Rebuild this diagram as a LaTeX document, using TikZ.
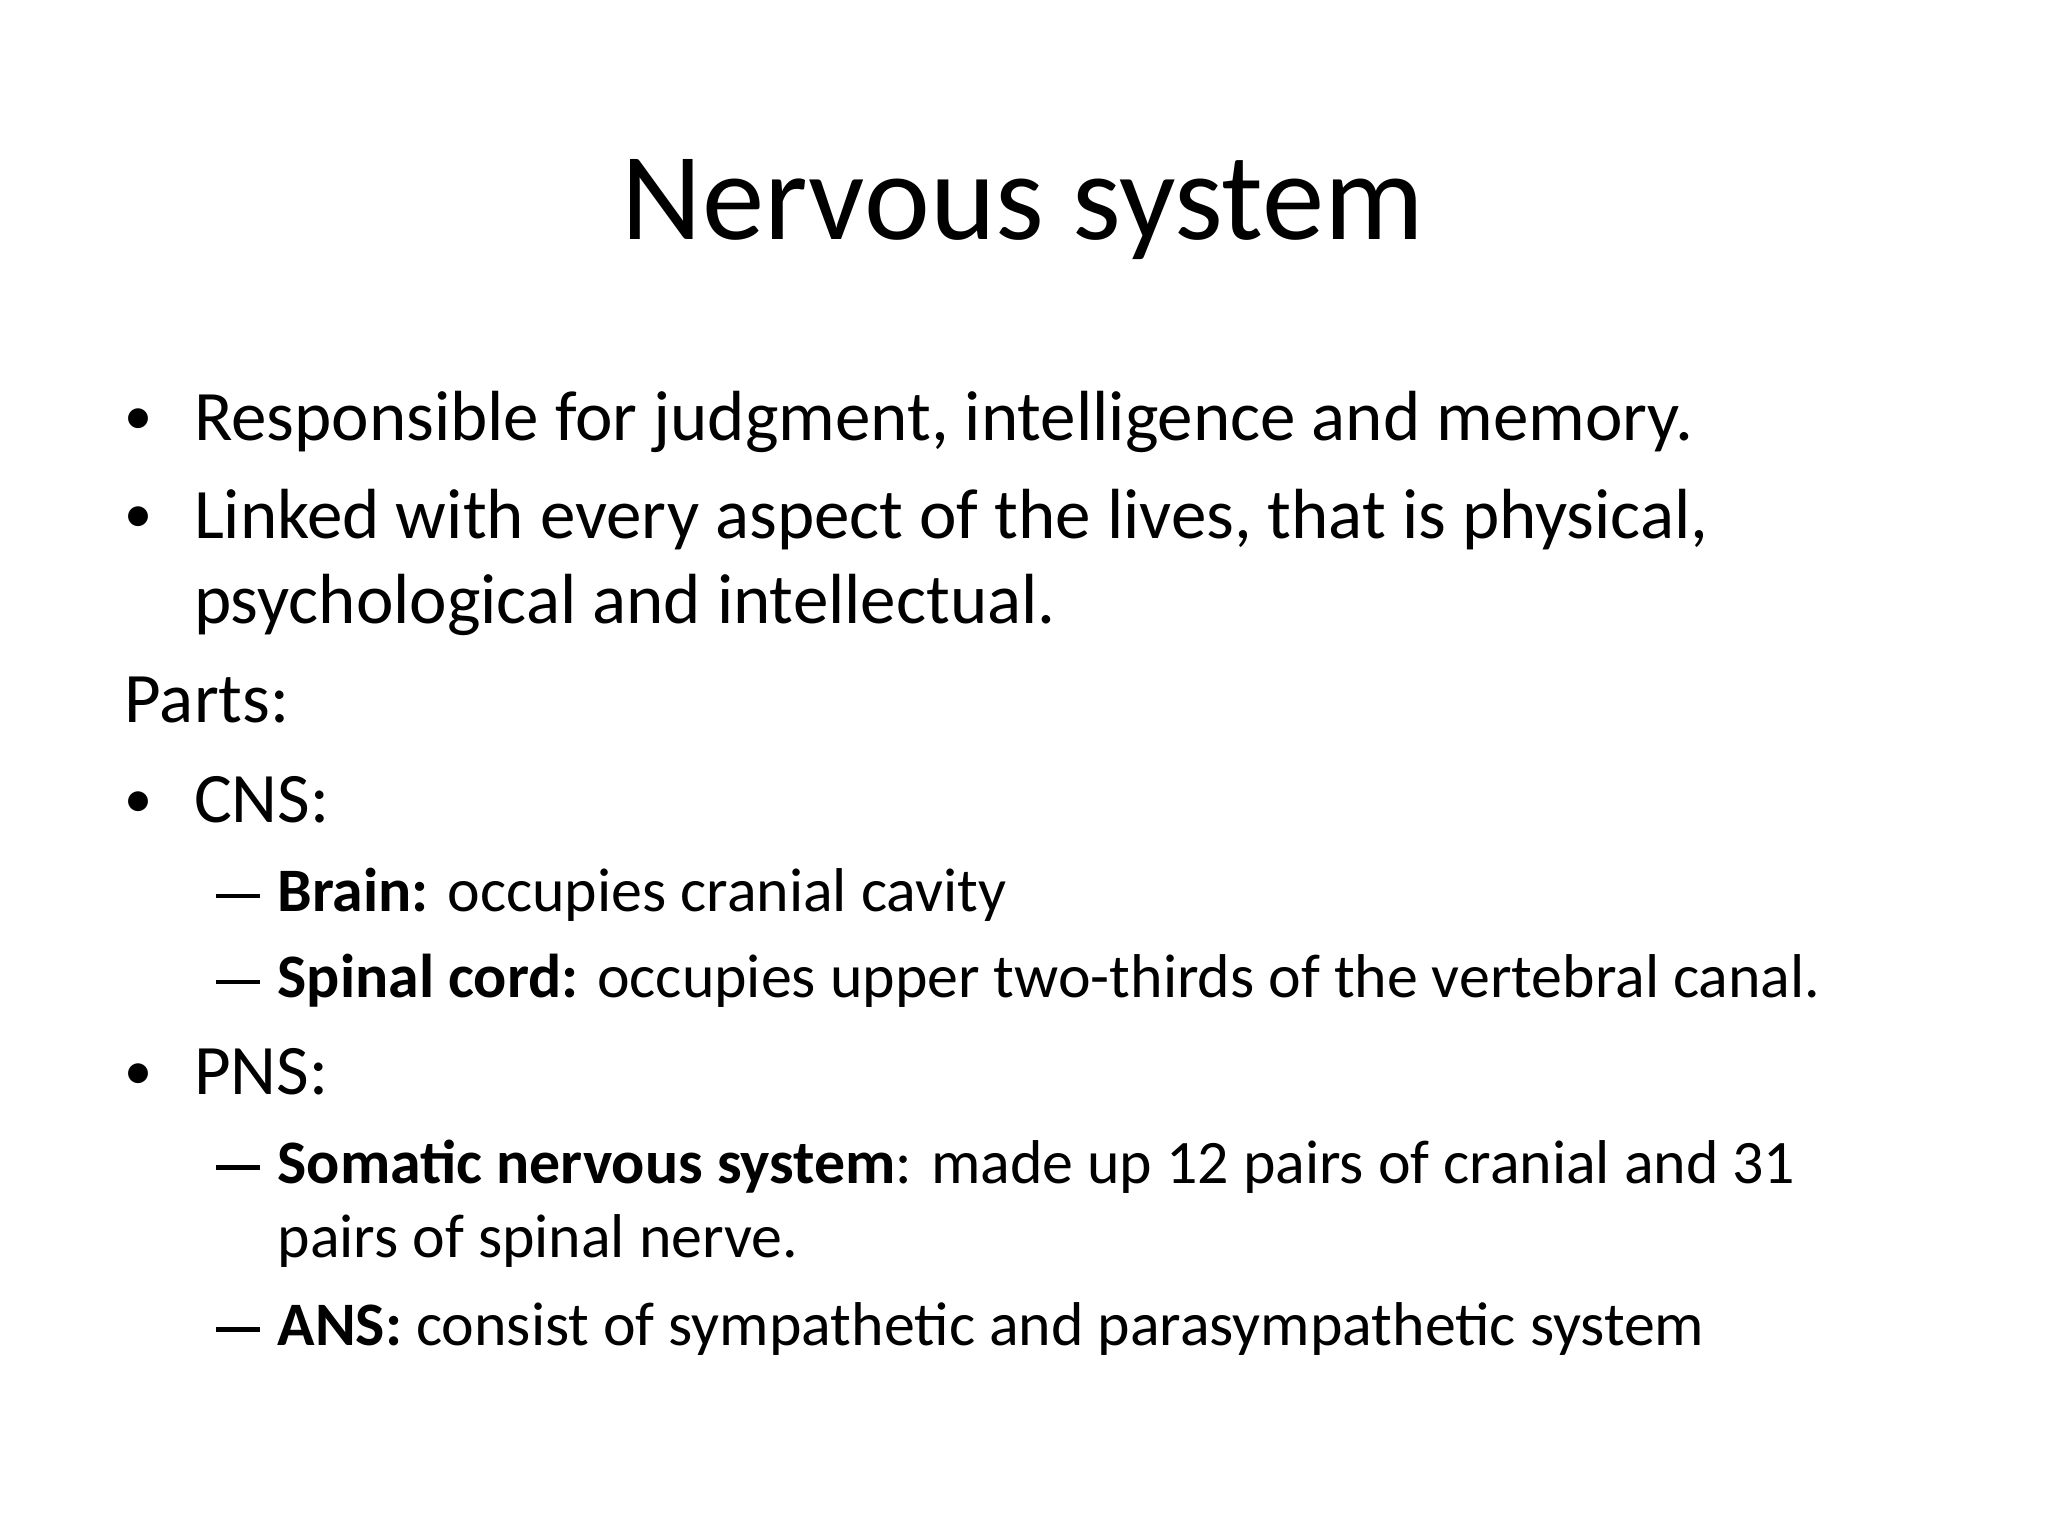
\documentclass[tikz,border=0pt]{standalone}
\usepackage{fontspec}
\setmainfont{Carlito}
\begin{document}
\begin{tikzpicture}[x=0.013061cm,y=-0.013061cm,
  txt/.style={anchor=base west,inner sep=0pt,font=\fontsize{20.2}{24}\selectfont},
  bul/.style={anchor=base west,inner sep=0pt,font=\fontsize{16}{20}\selectfont},
  sub/.style={anchor=base west,inner sep=0pt,font=\fontsize{17.6}{21}\selectfont}]
\useasboundingbox (0,0) rectangle (1568,1176);
\node[anchor=base,inner sep=0pt,font=\fontsize{35.5}{42}\selectfont] (title) at (783,183) {Nervous system};
\node[bul] (b1) at (95,333) {•};
\node[txt] (t1) at (148,337) {Responsible for judgment, intelligence and memory.};
\node[bul] (b2) at (95,408) {•};
\node[txt] (t2) at (148,412) {Linked with every aspect of the lives, that is physical,};
\node[txt] (t2b) at (148,477) {psychological and intellectual.};
\node[txt] (parts) at (95,553) {Parts:};
\node[bul] (b3) at (95,626) {•};
\node[txt] (t3) at (148,630) {CNS:};
\node[sub] (d1) at (165,698) {\rule[0.22em]{0.7em}{0.07em}};
\node[sub] (s1) at (212,698) {\textbf{Brain:} occupies cranial cavity};
\node[sub] (d2) at (165,764) {\rule[0.22em]{0.7em}{0.07em}};
\node[sub] (s2) at (212,764) {\textbf{Spinal cord:} occupies upper two-thirds of the vertebral canal.};
\node[bul] (b4) at (95,834) {•};
\node[txt] (t4) at (148,838) {PNS:};
\node[sub] (d3) at (165,906) {\rule[0.22em]{0.7em}{0.07em}};
\node[sub] (s3) at (212,906) {\textbf{Somatic nervous system}: made up 12 pairs of cranial and 31};
\node[sub] (s3b) at (212,963) {pairs of spinal nerve.};
\node[sub] (d4) at (165,1030) {\rule[0.22em]{0.7em}{0.07em}};
\node[sub] (s4) at (212,1030) {\textbf{ANS:} consist of sympathetic and parasympathetic system};
\end{tikzpicture}
\end{document}
